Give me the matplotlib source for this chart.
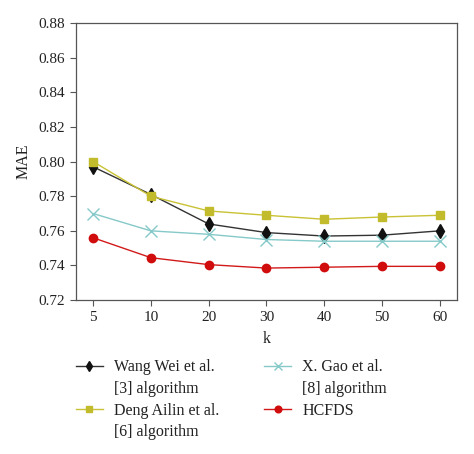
import matplotlib
matplotlib.use("Agg")
import matplotlib.pyplot as plt
from matplotlib.lines import Line2D

plt.rcParams['font.family'] = ['Liberation Serif', 'DejaVu Serif']

k_labels = ['5', '10', '20', '30', '40', '50', '60']
wang = [0.797, 0.781, 0.764, 0.759, 0.757, 0.7575, 0.760]
deng = [0.800, 0.780, 0.7715, 0.769, 0.7667, 0.768, 0.769]
gao = [0.770, 0.760, 0.758, 0.755, 0.754, 0.754, 0.754]
hcfds = [0.756, 0.7445, 0.7405, 0.7385, 0.739, 0.7395, 0.7395]

y_ticks = [0.72, 0.74, 0.76, 0.78, 0.80, 0.82, 0.84, 0.86, 0.88]

fig = plt.figure(figsize=(4.74, 4.54), dpi=100)
ax = fig.add_axes([0.160, 0.339, 0.804, 0.610])

x = list(range(len(k_labels)))
h1, = ax.plot(x, wang, color='#333333', lw=1.0, marker='d', ms=7, mfc='#111111',
              mec='#111111')
h2, = ax.plot(x, deng, color='#c9c234', lw=1.0, marker='s', ms=6, mfc='#c2bb2c',
              mec='#c2bb2c')
h3, = ax.plot(x, gao, color='#86c9c9', lw=1.0, marker='x', ms=8, mew=1.0)
h4, = ax.plot(x, hcfds, color='#d21a1a', lw=1.0, marker='o', ms=6, mfc='#d00c0c',
              mec='#d00c0c')

ax.set_xlim(-0.3, 6.3)
ax.set_ylim(0.72, 0.88)
ax.set_xticks(x)
ax.set_xticklabels(k_labels)
ax.set_yticks(y_ticks)
ax.set_yticklabels(['%.2f' % v for v in y_ticks])
ax.tick_params(direction='out', length=4, width=0.8, color='#555555',
               labelsize=11, labelcolor='#222222', pad=4)
for s in ax.spines.values():
    s.set_color('#555555')
    s.set_linewidth(0.9)

ax.set_xlabel('k', fontsize=11.5, color='#222222', labelpad=5)
ax.set_ylabel('MAE', fontsize=11.5, color='#222222', labelpad=5)

# second lines of the labels as blank-handle entries so markers sit on line one
blank = Line2D([], [], color='none')
handles = [h1, blank, h2, blank, h3, blank, h4, blank]
labels = ['Wang Wei et al.', '[3] algorithm', 'Deng Ailin et al.', '[6] algorithm',
          'X. Gao et al.', '[8] algorithm', 'HCFDS', '']
leg = fig.legend(handles, labels, loc='upper left', bbox_to_anchor=(0.160, 0.209),
                 ncol=2, frameon=False, fontsize=11.5, borderpad=0, borderaxespad=0,
                 handlelength=1.7, handletextpad=0.7, columnspacing=2.8,
                 labelspacing=0.36, markerscale=0.8)
for t in leg.get_texts():
    t.set_color('#222222')

fig.savefig('out.png', dpi=100)
